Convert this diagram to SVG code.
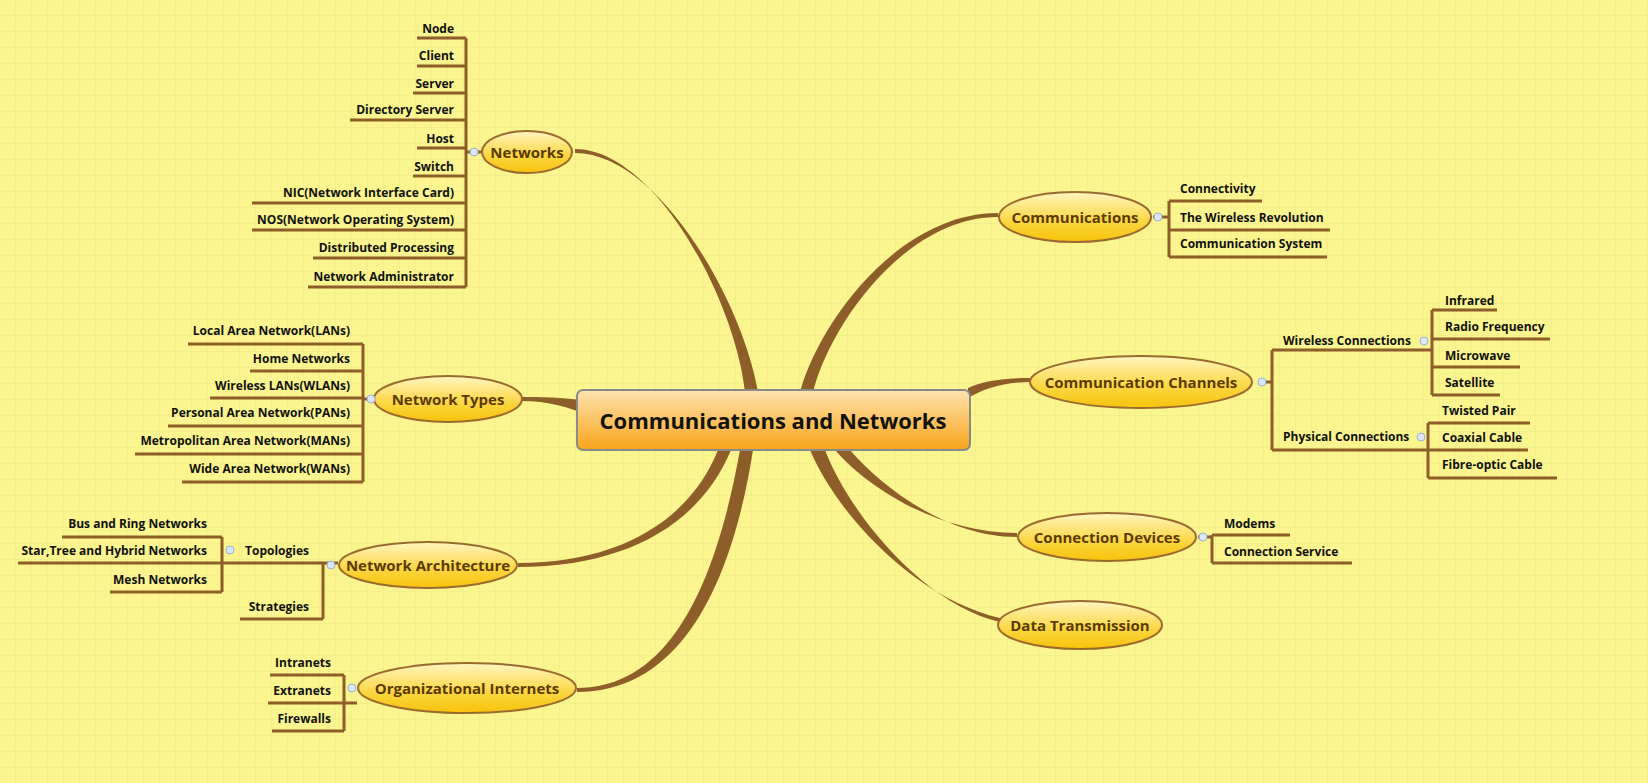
<svg xmlns="http://www.w3.org/2000/svg" width="1648" height="783" viewBox="0 0 1648 783">
<defs>
<pattern id="grid" width="16" height="16" patternUnits="userSpaceOnUse"><path d="M16 0V16H0" fill="none" stroke="#EDE88A" stroke-width="1"/></pattern>
<linearGradient id="eg" x1="0" y1="0" x2="0" y2="1"><stop offset="0" stop-color="#FFF6C0"/><stop offset="0.6" stop-color="#FBD640"/><stop offset="1" stop-color="#F7C20A"/></linearGradient>
<linearGradient id="cg" x1="0" y1="0" x2="0" y2="1"><stop offset="0" stop-color="#FEE3AE"/><stop offset="1" stop-color="#F8A41A"/></linearGradient>
<style>
.e{fill:url(#eg);stroke:#9B6A30;stroke-width:2}
.et{font-family:"Open Sans","Liberation Sans",sans-serif;font-weight:bold;font-size:15px;fill:#5A3A05;text-anchor:middle}
.l{font-family:"Open Sans","Liberation Sans",sans-serif;font-weight:bold;font-size:12px;fill:#111}
.r{text-anchor:end}
.ln{fill:none;stroke:#8E5E2A;stroke-width:3}
.c{fill:#8E5E2A}
.m{fill:#DDE6F5;stroke:#9AB0D8;stroke-width:1}
</style>
</defs>
<rect width="1648" height="783" fill="#FAF58E"/>
<rect width="1648" height="783" fill="url(#grid)"/>
<g id="connectors">
<path class="c" d="M575 149C655 149 735 300 745 392L758 392C742 300 658 153 575 153Z"/>
<path class="c" d="M998 213C900 213 820 320 800 392L813 392C830 325 905 217 998 217Z"/>
<path class="c" d="M522 397C550 397 565 398 580 400L580 412C560 405 545 401 522 401Z"/>
<path class="c" d="M1030 378C1000 378 980 382 968 388L968 398C985 388 1005 382 1030 382Z"/>
<path class="c" d="M518 563C620 563 690 520 718 450L731 450C700 525 625 567 518 567Z"/>
<path class="c" d="M577 688C680 688 720 560 740 450L753 450C735 565 690 692 577 692Z"/>
<path class="c" d="M1017 533C940 533 870 490 835 450L850 450C880 485 945 537 1017 537Z"/>
<path class="c" d="M1000 618C920 600 840 520 810 450L825 450C850 515 925 605 1000 622Z"/>
<!-- Networks bracket -->
<path class="ln" d="M466 38V287M417 38H466M417 66H466M413 93H466M350 120H466M417 148H466M413 176H466M252 203H466M252 230H466M313 258H466M308 287H466M466 152H482"/>
<!-- Network types -->
<path class="ln" d="M363 344V482M188 344H363M250 371H363M210 398H363M168 426H363M135 454H363M182 482H363M363 399H373"/>
<!-- Arch -->
<path class="ln" d="M323 563V619M240 563H338M240 619H323M222 537V592M62 537H222M18 563H240M110 592H222"/>
<!-- Org -->
<path class="ln" d="M344 675V731M270 675H344M268 703H357M272 731H344"/>
<!-- Communications -->
<path class="ln" d="M1169 201V257M1153 217H1169M1169 201H1262M1169 230H1330M1169 257H1327"/>
<!-- Channels -->
<path class="ln" d="M1272 350V450M1258 382H1272M1272 350H1432M1272 450H1428M1432 310V395M1432 310H1497M1432 339H1550M1432 367H1520M1432 395H1500M1428 423V478M1428 423H1530M1428 450H1528M1428 478H1557"/>
<!-- Devices -->
<path class="ln" d="M1212 535V563M1198 537H1212M1212 535H1290M1212 563H1352"/>
</g>
<g id="center"><rect x="577" y="390" width="393" height="60" rx="6" fill="url(#cg)" stroke="#8A8A8A" stroke-width="2"/><text x="773" y="429" text-anchor="middle" font-family="'Open Sans','Liberation Sans',sans-serif" font-weight="bold" font-size="22" fill="#111">Communications and Networks</text></g>
<g id="networks"><ellipse class="e" cx="527" cy="152" rx="45" ry="21"/><text class="et" x="527" y="158">Networks</text><circle class="m" cx="474" cy="152" r="4"/></g>
<g id="networks-leaves">
<text class="l r" x="454" y="33">Node</text><text class="l r" x="454" y="60">Client</text><text class="l r" x="454" y="88">Server</text><text class="l r" x="454" y="114">Directory Server</text><text class="l r" x="454" y="143">Host</text><text class="l r" x="454" y="171">Switch</text><text class="l r" x="454" y="197">NIC(Network Interface Card)</text><text class="l r" x="454" y="224">NOS(Network Operating System)</text><text class="l r" x="454" y="252">Distributed Processing</text><text class="l r" x="454" y="281">Network Administrator</text>
</g>
<g id="network-types"><ellipse class="e" cx="448" cy="399" rx="74" ry="23"/><text class="et" x="448" y="405">Network Types</text><circle class="m" cx="371" cy="399" r="4"/></g>
<g id="types-leaves">
<text class="l r" x="350" y="335">Local Area Network(LANs)</text><text class="l r" x="350" y="363">Home Networks</text><text class="l r" x="350" y="390">Wireless LANs(WLANs)</text><text class="l r" x="350" y="417">Personal Area Network(PANs)</text><text class="l r" x="350" y="445">Metropolitan Area Network(MANs)</text><text class="l r" x="350" y="473">Wide Area Network(WANs)</text>
</g>
<g id="network-architecture"><ellipse class="e" cx="428" cy="565" rx="89" ry="23"/><text class="et" x="428" y="571">Network Architecture</text><circle class="m" cx="331" cy="565" r="4"/></g>
<g id="arch-leaves">
<text class="l r" x="309" y="555">Topologies</text><circle class="m" cx="230" cy="550" r="4"/><text class="l r" x="309" y="611">Strategies</text>
<text class="l r" x="207" y="528">Bus and Ring Networks</text><text class="l r" x="207" y="555">Star,Tree and Hybrid Networks</text><text class="l r" x="207" y="584">Mesh Networks</text>
</g>
<g id="organizational-internets"><ellipse class="e" cx="467" cy="688" rx="109" ry="25"/><text class="et" x="467" y="694">Organizational Internets</text><circle class="m" cx="352" cy="688" r="4"/></g>
<g id="org-leaves"><text class="l r" x="331" y="667">Intranets</text><text class="l r" x="331" y="695">Extranets</text><text class="l r" x="331" y="723">Firewalls</text></g>
<g id="communications"><ellipse class="e" cx="1075" cy="217" rx="76" ry="25"/><text class="et" x="1075" y="223">Communications</text><circle class="m" cx="1158" cy="217" r="4"/></g>
<g id="comm-leaves"><text class="l" x="1180" y="193">Connectivity</text><text class="l" x="1180" y="222">The Wireless Revolution</text><text class="l" x="1180" y="248">Communication System</text></g>
<g id="communication-channels"><ellipse class="e" cx="1141" cy="382" rx="111" ry="26"/><text class="et" x="1141" y="388">Communication Channels</text><circle class="m" cx="1262" cy="382" r="4"/></g>
<g id="channel-leaves">
<text class="l" x="1283" y="345">Wireless Connections</text><circle class="m" cx="1424" cy="341" r="4"/>
<text class="l" x="1283" y="441">Physical Connections</text><circle class="m" cx="1421" cy="437" r="4"/>
<text class="l" x="1445" y="305">Infrared</text><text class="l" x="1445" y="331">Radio Frequency</text><text class="l" x="1445" y="360">Microwave</text><text class="l" x="1445" y="387">Satellite</text>
<text class="l" x="1442" y="415">Twisted Pair</text><text class="l" x="1442" y="442">Coaxial Cable</text><text class="l" x="1442" y="469">Fibre-optic Cable</text>
</g>
<g id="connection-devices"><ellipse class="e" cx="1107" cy="537" rx="89" ry="24"/><text class="et" x="1107" y="543">Connection Devices</text><circle class="m" cx="1203" cy="537" r="4"/></g>
<g id="device-leaves"><text class="l" x="1224" y="528">Modems</text><text class="l" x="1224" y="556">Connection Service</text></g>
<g id="data-transmission"><ellipse class="e" cx="1080" cy="625" rx="82" ry="24"/><text class="et" x="1080" y="631">Data Transmission</text></g>
</svg>
